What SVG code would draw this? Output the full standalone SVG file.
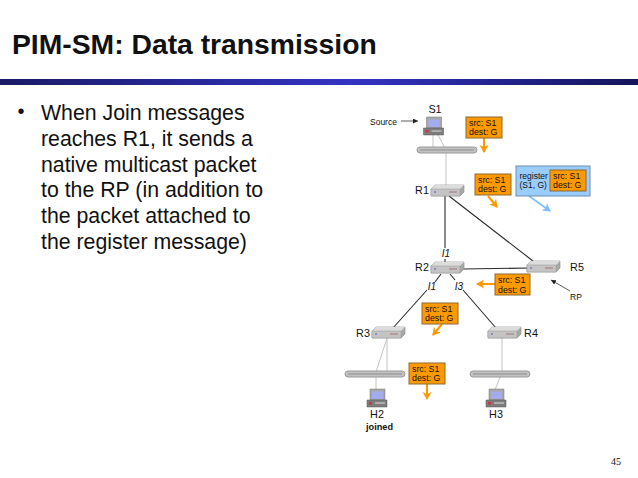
<svg xmlns="http://www.w3.org/2000/svg" width="638" height="478" viewBox="0 0 638 478">
<style>
text{font-family:"Liberation Sans",Arial,sans-serif;fill:#111}
.title{font-size:28.3px;font-weight:bold}
.body{font-size:21.3px}
.n{font-size:10.8px}
.s{font-size:8.5px}
.m{font-size:8.8px}
.i{font-size:10px;font-style:italic}
.box{fill:#ff9900;stroke:#8a6a33;stroke-width:1}
.bar{fill:#c2c2c2;stroke:#9a9a9a;stroke-width:1}
.barline{stroke:#777;stroke-width:.7}
.link{stroke:#2c2c2c;stroke-width:1.1;fill:none}
.drop{stroke:#c4c4c4;stroke-width:1;fill:none}
.oa{stroke:#ff9900;stroke-width:2;fill:none;marker-end:url(#oh)}
.ba{stroke:#7fbfff;stroke-width:1.6;fill:none;marker-end:url(#bh)}
.ka{stroke:#333;stroke-width:.8;fill:none;marker-end:url(#kh)}
</style>
<defs>
<linearGradient id="rule" x1="0" x2="1" y1="0" y2="0"><stop offset="0" stop-color="#1a1a66"/><stop offset=".55" stop-color="#3333c4"/><stop offset="1" stop-color="#14145a"/></linearGradient>
<marker id="oh" markerUnits="userSpaceOnUse" markerWidth="10" markerHeight="10" refX="7" refY="4.500" orient="auto"><path d="M0 0L8 4.500L0 9L2 4.500Z" fill="#ff9900"/></marker>
<marker id="bh" markerUnits="userSpaceOnUse" markerWidth="10" markerHeight="10" refX="7" refY="4.500" orient="auto"><path d="M0 0L8 4.500L0 9L2 4.500Z" fill="#7fbfff"/></marker>
<marker id="kh" markerUnits="userSpaceOnUse" markerWidth="6" markerHeight="6" refX="5" refY="2.500" orient="auto"><path d="M0 0L5 2.500L0 5Z" fill="#222"/></marker>
<g id="router">
<path d="M0 4L4 0H33V7L29 11H0Z" fill="#a8a8a8" stroke="#8a8a8a" stroke-width=".6"/>
<path d="M0 4L4 0H33L29 4Z" fill="#dcdcdc"/>
<rect x="0" y="4" width="29" height="7" fill="#c4c4c4" stroke="#8a8a8a" stroke-width=".4"/>
<circle cx="4" cy="7" r="1" fill="#7777cc"/>
<path d="M18 7H26" stroke="#a06060" stroke-width=".8"/>
</g>
<g id="pc">
<path d="M3 0H18V11H3Z" fill="#a8a8a8" stroke="#777" stroke-width=".5"/>
<rect x="5" y="2.500" width="11" height="7.500" fill="#a4acf0"/>
<path d="M0 11H20V18H0Z" fill="#7d7d7d" stroke="#555" stroke-width=".5"/>
<rect x="2" y="13" width="3" height="2.500" fill="#cc3344"/>
<path d="M8 14H18" stroke="#ddd" stroke-width="1"/>
</g>
</defs>
<rect width="638" height="478" fill="#fff"/>
<text class="title" x="12" y="54">PIM-SM: Data transmission</text>
<rect x="0" y="79" width="638" height="6" fill="url(#rule)"/>
<text x="17.500" y="117.500" style="font-size:20px">•</text>
<text class="body" x="41" y="120">When Join messages</text>
<text class="body" x="41" y="145.800">reaches R1, it sends a</text>
<text class="body" x="41" y="171.600">native multicast packet</text>
<text class="body" x="41" y="197.400">to the RP (in addition to</text>
<text class="body" x="41" y="223.200">the packet attached to</text>
<text class="body" x="41" y="249">the register message)</text>
<g id="connectors">
<path class="drop" d="M433 135L433 150M438 135L446 150M446 150V186"/>
<path class="link" d="M445 196V248M445 259V263M449 196L533 261M463 269L530 268M441 274L435 282M427 290L393 328M450 274L455 280M463 290L496 328"/>
<path class="drop" d="M387 338L376 372V390M387 338V372M502 338V372L495 390"/>
<path class="ka" d="M401 121H418"/>
<path class="ka" d="M570 291L551 280"/>
<path class="oa" d="M484 138V152"/>
<path class="oa" d="M488 196L497 207"/>
<path class="ba" d="M529 196L550 211"/>
<path class="oa" d="M495 284H477"/>
<path class="oa" d="M442 324L433 335"/>
<path class="oa" d="M427 384V399"/>
</g>
<g id="bar-s1"><rect class="bar" x="417" y="147" width="60" height="6" rx="3"/><path class="barline" d="M420 150H474"/></g>
<g id="bar-h2"><rect class="bar" x="345" y="371" width="60" height="6" rx="3"/><path class="barline" d="M348 374H402"/></g>
<g id="bar-h3"><rect class="bar" x="470" y="371" width="60" height="6" rx="3"/><path class="barline" d="M473 374H527"/></g>
<g id="S1"><use href="#pc" x="423.500" y="117"/><text class="n" x="435" y="113" text-anchor="middle">S1</text></g>
<g id="source"><text class="s" x="370" y="125">Source</text></g>
<g id="R1"><use href="#router" x="431" y="185"/><text class="n" x="422" y="194" text-anchor="middle">R1</text></g>
<g id="R2"><use href="#router" x="431" y="262"/><text class="n" x="422" y="271" text-anchor="middle">R2</text></g>
<g id="R5"><use href="#router" x="527" y="261"/><text class="n" x="577" y="271" text-anchor="middle">R5</text></g>
<g id="R3"><use href="#router" x="372" y="327"/><text class="n" x="363" y="337" text-anchor="middle">R3</text></g>
<g id="R4"><use href="#router" x="488" y="327"/><text class="n" x="531" y="337" text-anchor="middle">R4</text></g>
<g id="H2"><use href="#pc" x="367" y="389"/><text class="n" x="377" y="418" text-anchor="middle">H2</text></g>
<g id="H3"><use href="#pc" x="486" y="389"/><text class="n" x="496" y="418" text-anchor="middle">H3</text></g>
<g id="labels">
<text class="s" x="379.500" y="430" text-anchor="middle" font-weight="bold" style="font-size:9.200px">joined</text>
<text class="s" x="576" y="300" text-anchor="middle">RP</text>
<text class="i" x="446" y="257" text-anchor="middle">I1</text>
<text class="i" x="432" y="290" text-anchor="middle">I1</text>
<text class="i" x="459" y="290" text-anchor="middle">I3</text>
</g>
<g id="msg1"><rect class="box" x="466" y="117" width="36" height="21"/><text class="m" x="469" y="125.500">src: S1</text><text class="m" x="469" y="135">dest: G</text></g>
<g id="msg2"><rect class="box" x="475" y="174" width="36" height="21"/><text class="m" x="478" y="182.500">src: S1</text><text class="m" x="478" y="192">dest: G</text></g>
<g id="register"><rect x="516" y="166" width="74" height="30" fill="#99ccff" stroke="#6f8fb0"/><text class="s" x="519.500" y="178.500">register</text><text class="s" x="519.500" y="188">(S1, G)</text><rect class="box" x="550" y="170" width="36" height="21"/><text class="m" x="553" y="178.500">src: S1</text><text class="m" x="553" y="188">dest: G</text></g>
<g id="msg3"><rect class="box" x="495" y="274" width="35" height="21"/><text class="m" x="498" y="283">src: S1</text><text class="m" x="498" y="292.500">dest: G</text></g>
<g id="msg4"><rect class="box" x="422" y="303" width="36" height="21"/><text class="m" x="425" y="311.500">src: S1</text><text class="m" x="425" y="321">dest: G</text></g>
<g id="msg5"><rect class="box" x="409" y="363" width="36" height="21"/><text class="m" x="412" y="371.500">src: S1</text><text class="m" x="412" y="381">dest: G</text></g>
<text x="616" y="465" text-anchor="middle" style="font-family:'Liberation Serif',serif;font-size:10px">45</text>
</svg>
